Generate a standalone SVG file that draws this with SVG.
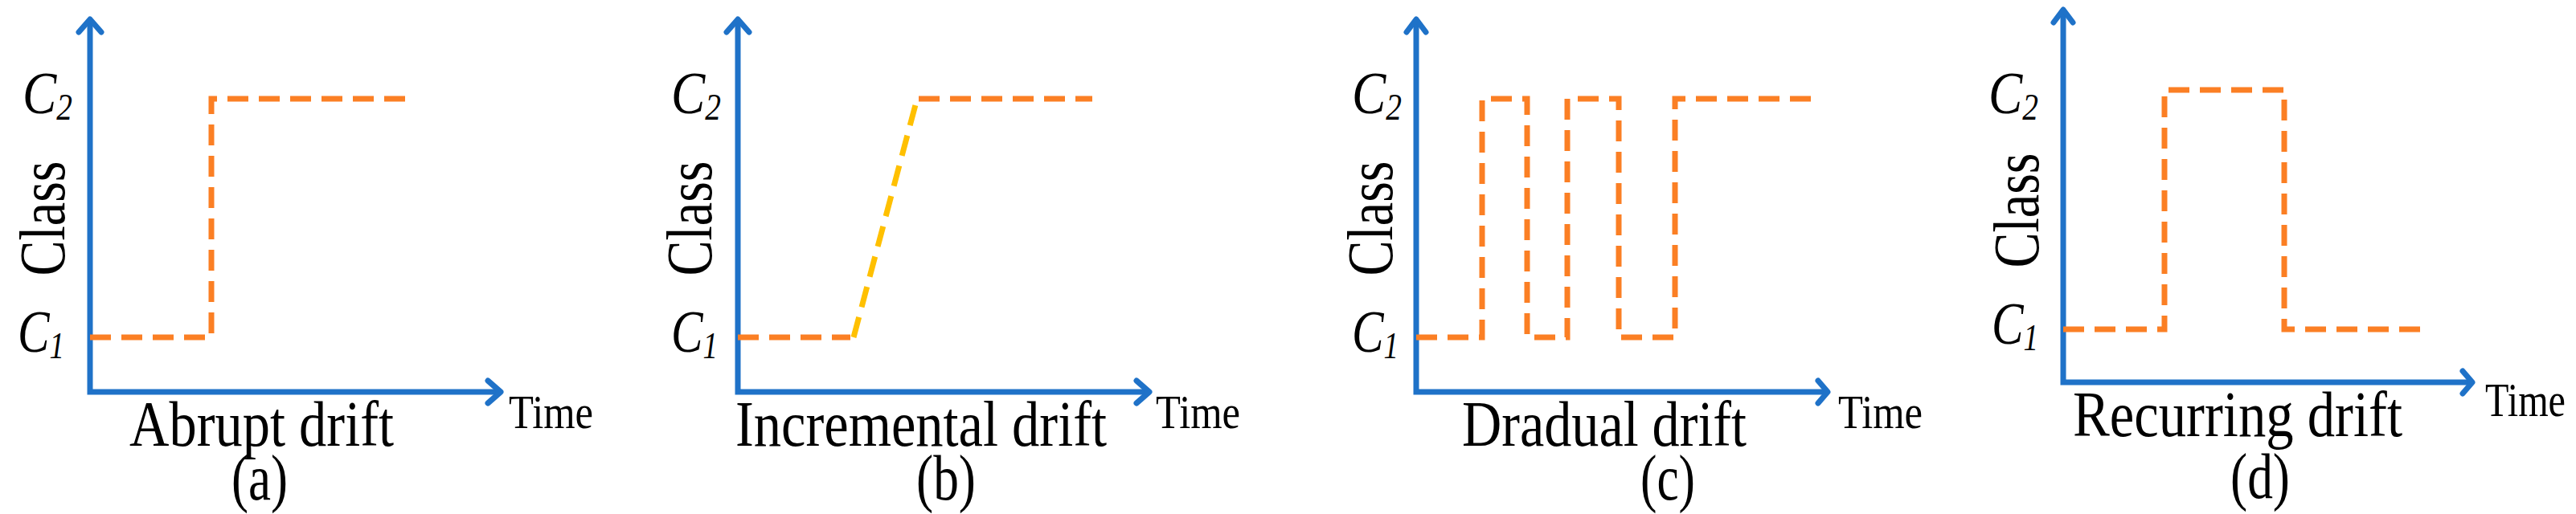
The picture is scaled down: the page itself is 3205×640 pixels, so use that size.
<svg xmlns="http://www.w3.org/2000/svg" width="3205" height="640" viewBox="0 0 3205 640">
<style>
text{font-family:"Liberation Serif",serif;fill:#000}
.ax{stroke:#1f72c8;stroke-width:7;fill:none}
.ah{stroke:#1f72c8;stroke-width:7;fill:none;stroke-linecap:round;stroke-linejoin:round}
.d{stroke:#fb7f24;stroke-width:7;fill:none;stroke-dasharray:26 13}
.y{stroke:#ffc000;stroke-width:7;fill:none;stroke-dasharray:26 13}
.c{font-style:italic;font-size:74px}
.cl{font-size:80px}
.t{font-size:80px}
.tm{font-size:60px}
</style>
<g id="panel-a">
<path class="ax" d="M112 26 V488 H621"/>
<path class="ah" d="M98 40 L112 24 L126 40 M607 474 L623 488 L607 502"/>
<g id="curve-a"><path class="d" d="M112 420 H263 V123 H515"/></g>
<text class="c" x="28" y="141" textLength="62" lengthAdjust="spacingAndGlyphs">C<tspan font-size="46" dy="8">2</tspan></text>
<text class="c" x="22" y="438" textLength="58" lengthAdjust="spacingAndGlyphs">C<tspan font-size="46" dy="8">1</tspan></text>
<text class="cl" transform="translate(80,272) rotate(-90)" text-anchor="middle" textLength="143" lengthAdjust="spacingAndGlyphs">Class</text>
<text class="t" x="161" y="555" textLength="329" lengthAdjust="spacingAndGlyphs">Abrupt drift</text>
<text class="t" x="323" y="622" text-anchor="middle" textLength="70" lengthAdjust="spacingAndGlyphs">(a)</text>
<text class="tm" x="633" y="533" textLength="105" lengthAdjust="spacingAndGlyphs">Time</text>
</g>
<g id="panel-b">
<path class="ax" d="M918 26 V488 H1428"/>
<path class="ah" d="M904 40 L918 24 L932 40 M1414 474 L1430 488 L1414 502"/>
<g id="curve-b"><path class="d" d="M918 420 H1058"/><path class="y" d="M1062 420 L1141 123"/><path class="d" d="M1143 123 H1359"/></g>
<text class="c" x="835" y="141" textLength="62" lengthAdjust="spacingAndGlyphs">C<tspan font-size="46" dy="8">2</tspan></text>
<text class="c" x="835" y="438" textLength="58" lengthAdjust="spacingAndGlyphs">C<tspan font-size="46" dy="8">1</tspan></text>
<text class="cl" transform="translate(885,272) rotate(-90)" text-anchor="middle" textLength="143" lengthAdjust="spacingAndGlyphs">Class</text>
<text class="t" x="915" y="555" textLength="462" lengthAdjust="spacingAndGlyphs">Incremental drift</text>
<text class="t" x="1177" y="622" text-anchor="middle" textLength="74" lengthAdjust="spacingAndGlyphs">(b)</text>
<text class="tm" x="1438" y="533" textLength="105" lengthAdjust="spacingAndGlyphs">Time</text>
</g>
<g id="panel-c">
<path class="ax" d="M1762 26 V488 H2272"/>
<path class="ah" d="M1750 40 L1762 24 L1774 40 M2262 474 L2274 488 L2262 502"/>
<g id="curve-c"><path class="d" d="M1762 420 H1844 V123 H1900 V420 H1950 V123 H2014 V420 H2084 V123 H2258"/></g>
<text class="c" x="1682" y="141" textLength="62" lengthAdjust="spacingAndGlyphs">C<tspan font-size="46" dy="8">2</tspan></text>
<text class="c" x="1682" y="438" textLength="58" lengthAdjust="spacingAndGlyphs">C<tspan font-size="46" dy="8">1</tspan></text>
<text class="cl" transform="translate(1732,272) rotate(-90)" text-anchor="middle" textLength="143" lengthAdjust="spacingAndGlyphs">Class</text>
<text class="t" x="1819" y="555" textLength="354" lengthAdjust="spacingAndGlyphs">Dradual drift</text>
<text class="t" x="2075" y="622" text-anchor="middle" textLength="68" lengthAdjust="spacingAndGlyphs">(c)</text>
<text class="tm" x="2287" y="533" textLength="105" lengthAdjust="spacingAndGlyphs">Time</text>
</g>
<g id="panel-d">
<path class="ax" d="M2567 14 V476 H3074"/>
<path class="ah" d="M2555 28 L2567 12 L2579 28 M3064 462 L3076 476 L3064 490"/>
<g id="curve-d"><path class="d" d="M2567 410 H2693 V112 H2842 V410 H3018"/></g>
<text class="c" x="2474" y="141" textLength="62" lengthAdjust="spacingAndGlyphs">C<tspan font-size="46" dy="8">2</tspan></text>
<text class="c" x="2478" y="428" textLength="58" lengthAdjust="spacingAndGlyphs">C<tspan font-size="46" dy="8">1</tspan></text>
<text class="cl" transform="translate(2536,262) rotate(-90)" text-anchor="middle" textLength="143" lengthAdjust="spacingAndGlyphs">Class</text>
<text class="t" x="2579" y="543" textLength="410" lengthAdjust="spacingAndGlyphs">Recurring drift</text>
<text class="t" x="2812" y="620" text-anchor="middle" textLength="74" lengthAdjust="spacingAndGlyphs">(d)</text>
<text class="tm" x="3092" y="518" textLength="100" lengthAdjust="spacingAndGlyphs">Time</text>
</g>
</svg>
